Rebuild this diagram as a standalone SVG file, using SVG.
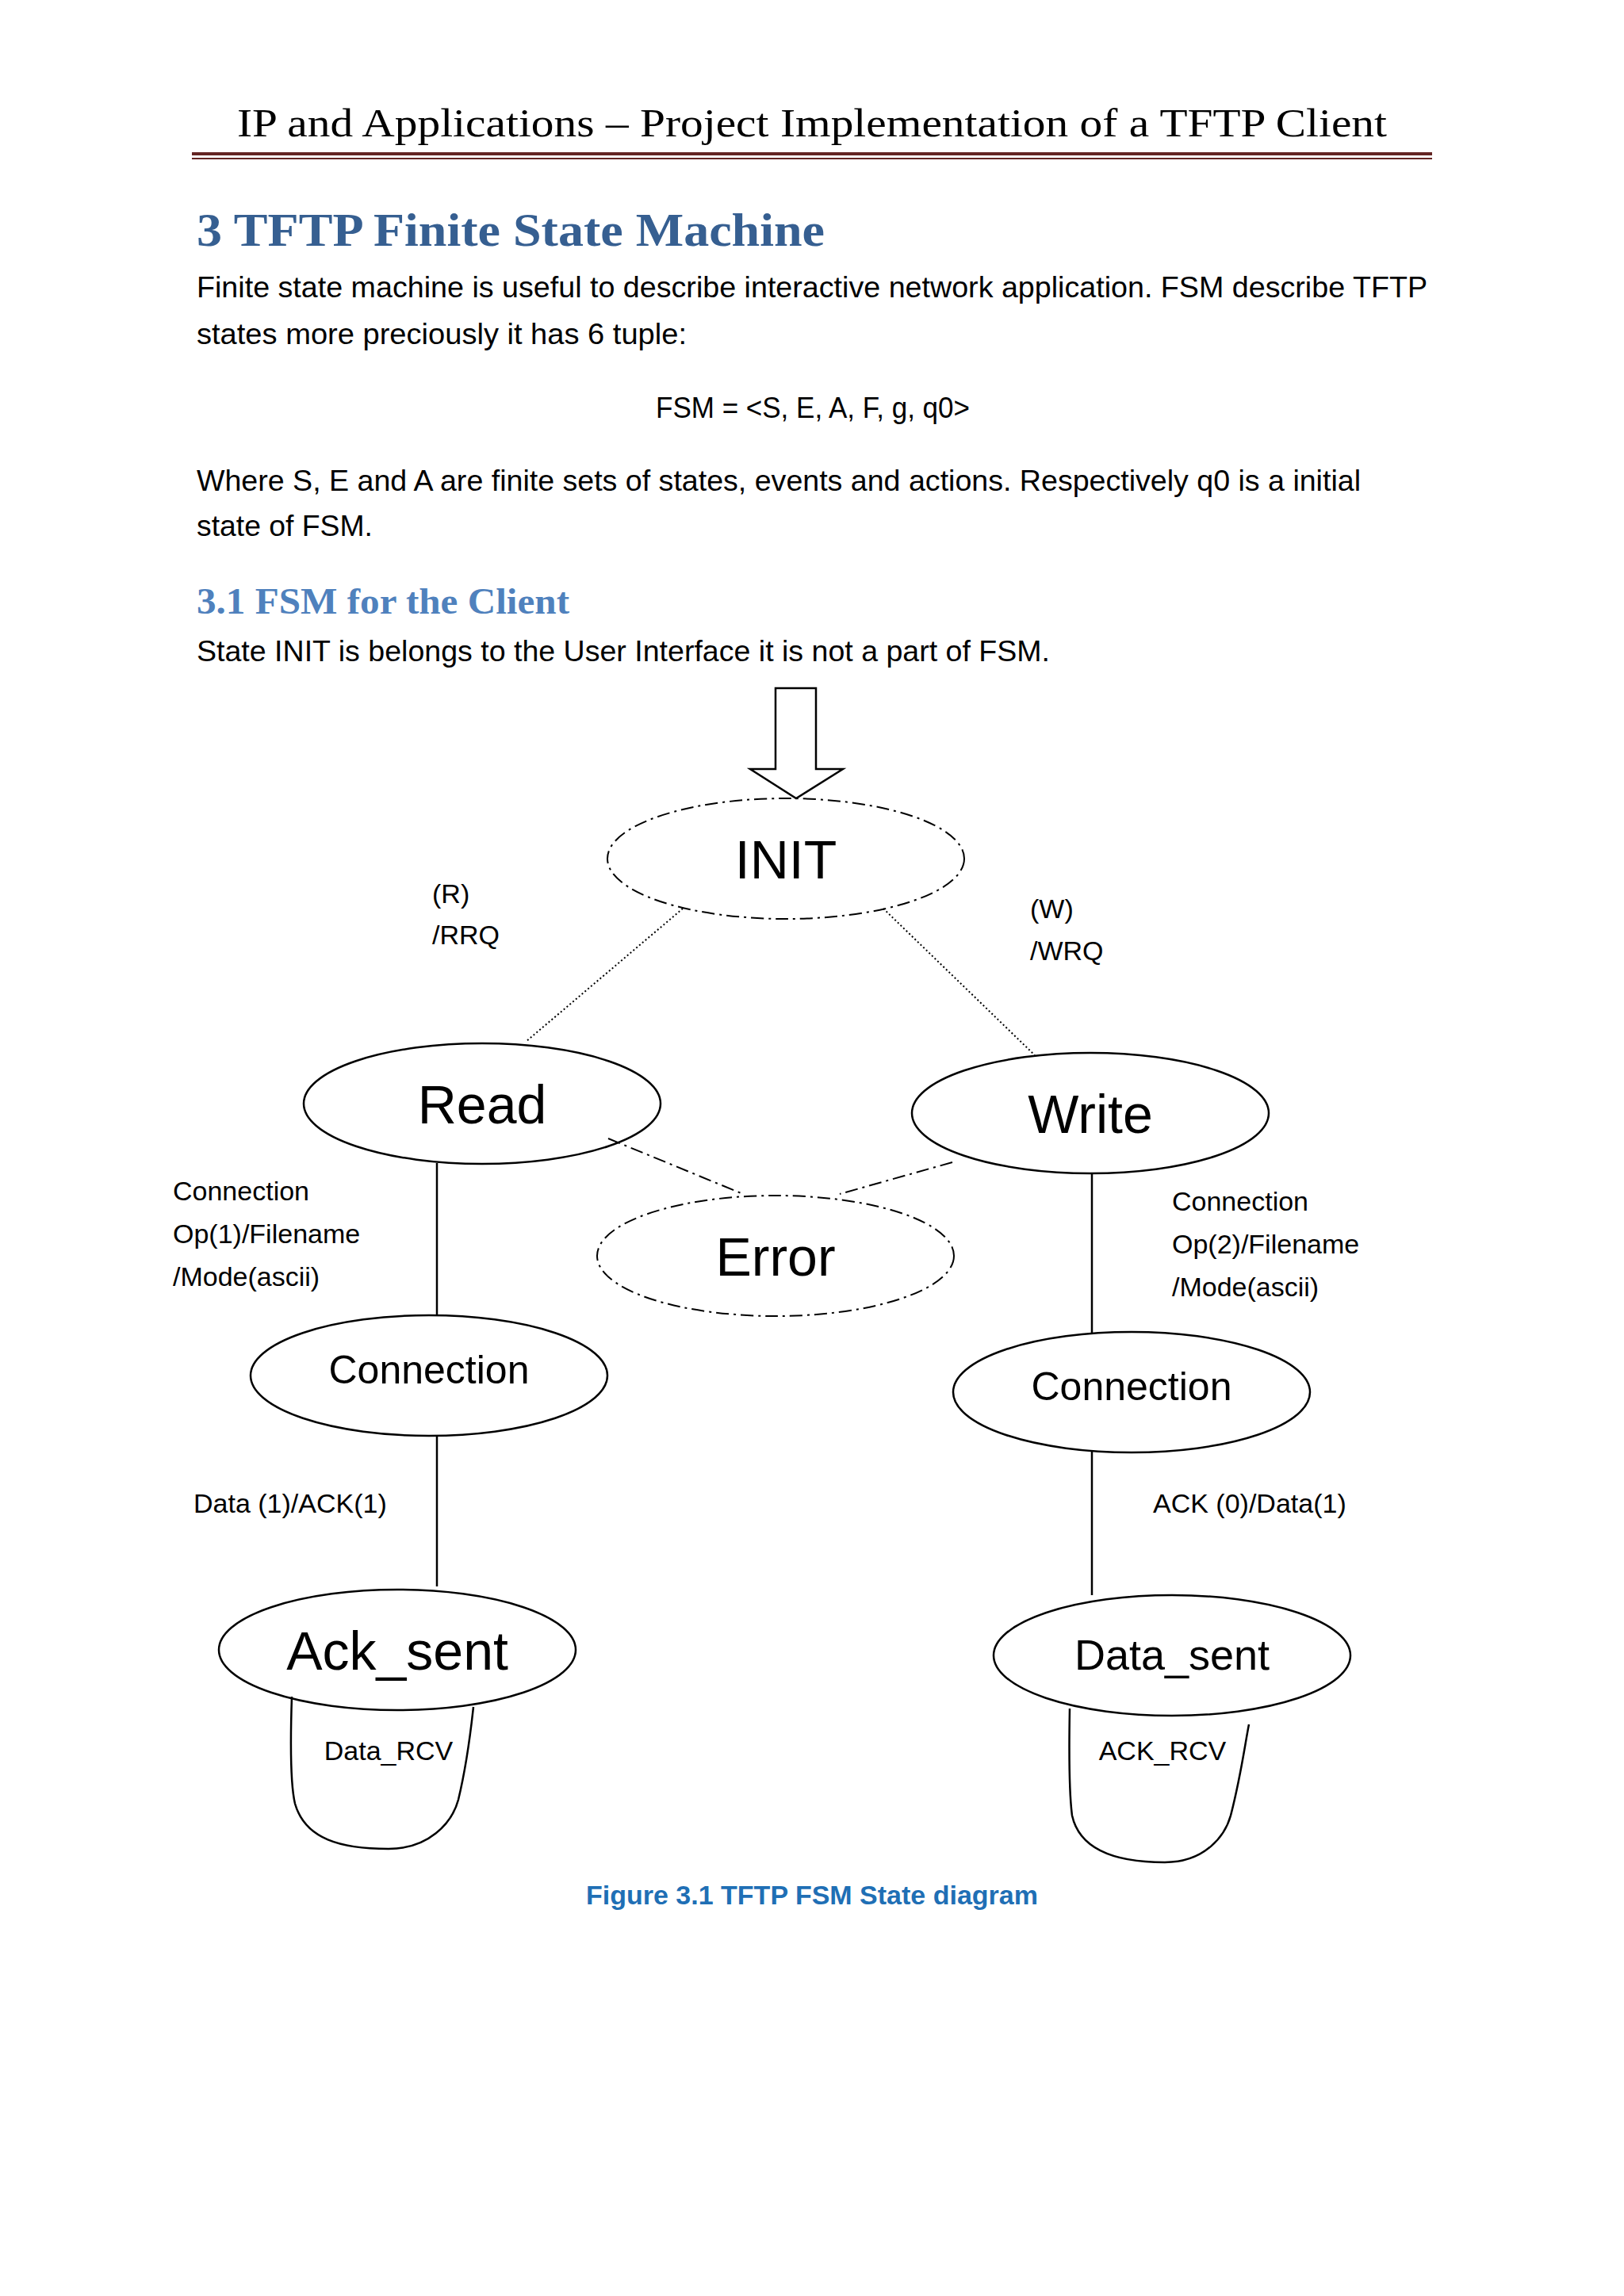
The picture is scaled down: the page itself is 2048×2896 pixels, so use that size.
<svg xmlns="http://www.w3.org/2000/svg" width="2048" height="2896" viewBox="0 0 2048 2896">
<style>
.b{font-family:"Liberation Sans","DejaVu Sans",sans-serif;fill:#000}
.st{fill:none;stroke:#000;stroke-width:2.5}
.dd{fill:none;stroke:#000;stroke-width:2;stroke-dasharray:16,6,3,6}
.dot{fill:none;stroke:#000;stroke-width:2;stroke-dasharray:2,3}
</style>
<rect width="2048" height="2896" fill="#fff"/>
<text x="1024" y="172" text-anchor="middle" font-family="Liberation Serif,serif" font-size="50" textLength="1450" lengthAdjust="spacingAndGlyphs">IP and Applications – Project Implementation of a TFTP Client</text>
<rect x="242" y="192" width="1564" height="4" fill="#632523"/>
<rect x="242" y="199" width="1564" height="2" fill="#632523"/>
<text x="248" y="310" font-family="Liberation Serif,serif" font-weight="bold" font-size="60" fill="#365f91" textLength="792" lengthAdjust="spacingAndGlyphs">3 TFTP Finite State Machine</text>
<g class="b" font-size="37">
<text x="248" y="375" textLength="1552" lengthAdjust="spacingAndGlyphs">Finite state machine is useful to describe interactive network application. FSM describe TFTP</text>
<text x="248" y="434" textLength="618" lengthAdjust="spacingAndGlyphs">states more preciously it has 6 tuple:</text>
<text x="1025" y="527" text-anchor="middle" textLength="396" lengthAdjust="spacingAndGlyphs">FSM = &lt;S, E, A, F, g, q0&gt;</text>
<text x="248" y="619" textLength="1468" lengthAdjust="spacingAndGlyphs">Where  S, E and A are finite sets of states, events and actions. Respectively q0 is a initial</text>
<text x="248" y="676" textLength="222" lengthAdjust="spacingAndGlyphs">state of FSM.</text>
<text x="248" y="834" textLength="1076" lengthAdjust="spacingAndGlyphs">State INIT is belongs to the User Interface it is not a part of FSM.</text>
</g>
<text x="248" y="774" font-family="Liberation Serif,serif" font-weight="bold" font-size="46" fill="#4f81bd" textLength="470" lengthAdjust="spacingAndGlyphs">3.1 FSM for the Client</text>

<g id="connectors">
<polygon points="978,868 1029,868 1029,970 1063,970 1004,1007 946,970 978,970" fill="#fff" stroke="#000" stroke-width="2.5"/>
<line class="dot" x1="861" y1="1146" x2="663" y2="1314"/>
<line class="dot" x1="1114" y1="1146" x2="1305" y2="1331"/>
<line class="dd" x1="767" y1="1436" x2="937" y2="1506"/>
<line class="dd" x1="1201" y1="1466" x2="1059" y2="1506"/>
<line class="st" x1="551" y1="1467" x2="551" y2="1660"/>
<line class="st" x1="1377" y1="1480" x2="1377" y2="1682"/>
<line class="st" x1="551" y1="1811" x2="551" y2="2001"/>
<line class="st" x1="1377" y1="1831" x2="1377" y2="2012"/>
<path class="st" d="M368,2140 C366,2200 366,2250 372,2275 C385,2320 430,2332 490,2332 C540,2332 570,2300 578,2270 C590,2220 594,2180 597,2153"/>
<path class="st" d="M1349,2155 C1348,2210 1348,2260 1352,2290 C1362,2335 1410,2349 1469,2349 C1520,2349 1545,2315 1552,2290 C1565,2240 1570,2200 1575,2175"/>
<g class="b" font-size="34">
<text x="545" y="1139">(R)</text>
<text x="545" y="1191">/RRQ</text>
<text x="1299" y="1158">(W)</text>
<text x="1299" y="1211">/WRQ</text>
<text x="218" y="1514">Connection</text>
<text x="218" y="1568">Op(1)/Filename</text>
<text x="218" y="1622">/Mode(ascii)</text>
<text x="1478" y="1527">Connection</text>
<text x="1478" y="1581">Op(2)/Filename</text>
<text x="1478" y="1635">/Mode(ascii)</text>
<text x="244" y="1908">Data (1)/ACK(1)</text>
<text x="1454" y="1908">ACK (0)/Data(1)</text>
<text x="490" y="2220" text-anchor="middle">Data_RCV</text>
<text x="1466" y="2220" text-anchor="middle">ACK_RCV</text>
</g>
</g>

<g id="init"><ellipse class="dd" cx="991" cy="1083" rx="225" ry="76" fill="#fff"/><text class="b" x="991" y="1108" text-anchor="middle" font-size="68">INIT</text></g>
<g id="read"><ellipse class="st" cx="608" cy="1392" rx="225" ry="76"/><text class="b" x="608" y="1417" text-anchor="middle" font-size="68">Read</text></g>
<g id="write"><ellipse class="st" cx="1375" cy="1404" rx="225" ry="76"/><text class="b" x="1375" y="1429" text-anchor="middle" font-size="68">Write</text></g>
<g id="error"><ellipse class="dd" cx="978" cy="1584" rx="225" ry="76"/><text class="b" x="978" y="1609" text-anchor="middle" font-size="68">Error</text></g>
<g id="conn-left"><ellipse class="st" cx="541" cy="1735" rx="225" ry="76"/><text class="b" x="541" y="1745" text-anchor="middle" font-size="50">Connection</text></g>
<g id="conn-right"><ellipse class="st" cx="1427" cy="1756" rx="225" ry="76"/><text class="b" x="1427" y="1766" text-anchor="middle" font-size="50">Connection</text></g>
<g id="ack-sent"><ellipse class="st" cx="501" cy="2081" rx="225" ry="76" fill="#fff"/><text class="b" x="501" y="2106" text-anchor="middle" font-size="68">Ack_sent</text></g>
<g id="data-sent"><ellipse class="st" cx="1478" cy="2088" rx="225" ry="76" fill="#fff"/><text class="b" x="1478" y="2106" text-anchor="middle" font-size="54">Data_sent</text></g>
<text x="1024" y="2402" text-anchor="middle" font-family="Liberation Sans,sans-serif" font-weight="bold" font-size="34" fill="#1f6fb5">Figure 3.1 TFTP FSM State diagram</text>
</svg>
